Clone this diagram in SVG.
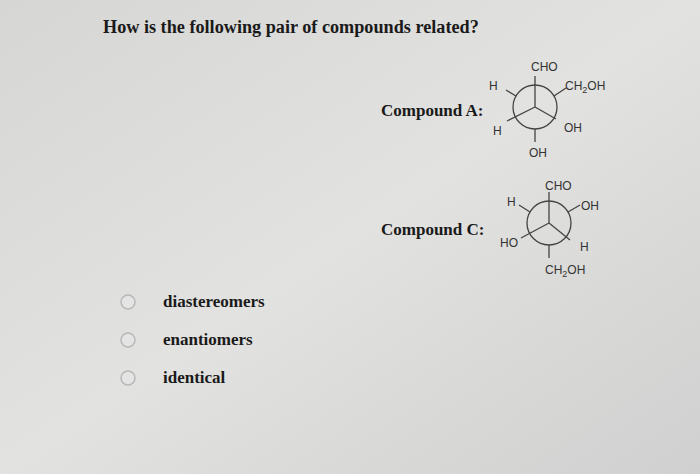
<svg xmlns="http://www.w3.org/2000/svg" width="700" height="474" viewBox="0 0 700 474">
<defs><linearGradient id="bg" x1="0" y1="0" x2="1" y2="1"><stop offset="0" stop-color="#d6d6d4"/><stop offset="0.5" stop-color="#e2e2e0"/><stop offset="1" stop-color="#cfd0cf"/></linearGradient></defs>
<style>
.t{font-family:"Liberation Serif",serif;font-weight:bold;fill:#1a1a1a}
.s{font-family:"Liberation Sans",sans-serif;font-size:12px;fill:#333}
.l{stroke:#444;stroke-width:1.3;fill:none}
.r{fill:#e4e4e4;stroke:#b8b8b8;stroke-width:1.5}
</style>
<rect width="700" height="474" fill="url(#bg)"/>
<text class="t" x="103" y="33" font-size="18.2">How is the following pair of compounds related?</text>
<text class="t" x="381" y="116" font-size="17">Compound A:</text>
<text class="t" x="381" y="235" font-size="17">Compound C:</text>
<g id="newmanA">
<circle class="l" cx="535" cy="107" r="22"/>
<path class="l" d="M535 107V76M535 107L507 121M535 107L556 119M516 96L506 90M554 96L566 88M535 129V142"/>
<text class="s" x="531" y="71">CHO</text>
<text class="s" x="489" y="90">H</text>
<text class="s" x="565" y="90">CH<tspan font-size="9" dy="3">2</tspan><tspan dy="-3">OH</tspan></text>
<text class="s" x="493" y="135">H</text>
<text class="s" x="564" y="132">OH</text>
<text class="s" x="529" y="157">OH</text>
</g>
<g id="newmanC">
<circle class="l" cx="549" cy="223" r="22"/>
<path class="l" d="M549 223V192M549 223L521 238M549 223L570 240M530 212L519 205M568 212L580 205M549 245V258"/>
<text class="s" x="545" y="190">CHO</text>
<text class="s" x="507" y="206">H</text>
<text class="s" x="581" y="210">OH</text>
<text class="s" x="500" y="247">HO</text>
<text class="s" x="580" y="251">H</text>
<text class="s" x="545" y="274">CH<tspan font-size="9" dy="3">2</tspan><tspan dy="-3">OH</tspan></text>
</g>
<g id="options">
<circle class="r" cx="128" cy="302" r="7"/>
<circle class="r" cx="128" cy="340" r="7"/>
<circle class="r" cx="128" cy="378" r="7"/>
<text class="t" x="163" y="307" font-size="17">diastereomers</text>
<text class="t" x="163" y="345" font-size="17">enantiomers</text>
<text class="t" x="163" y="383" font-size="17">identical</text>
</g>
</svg>
